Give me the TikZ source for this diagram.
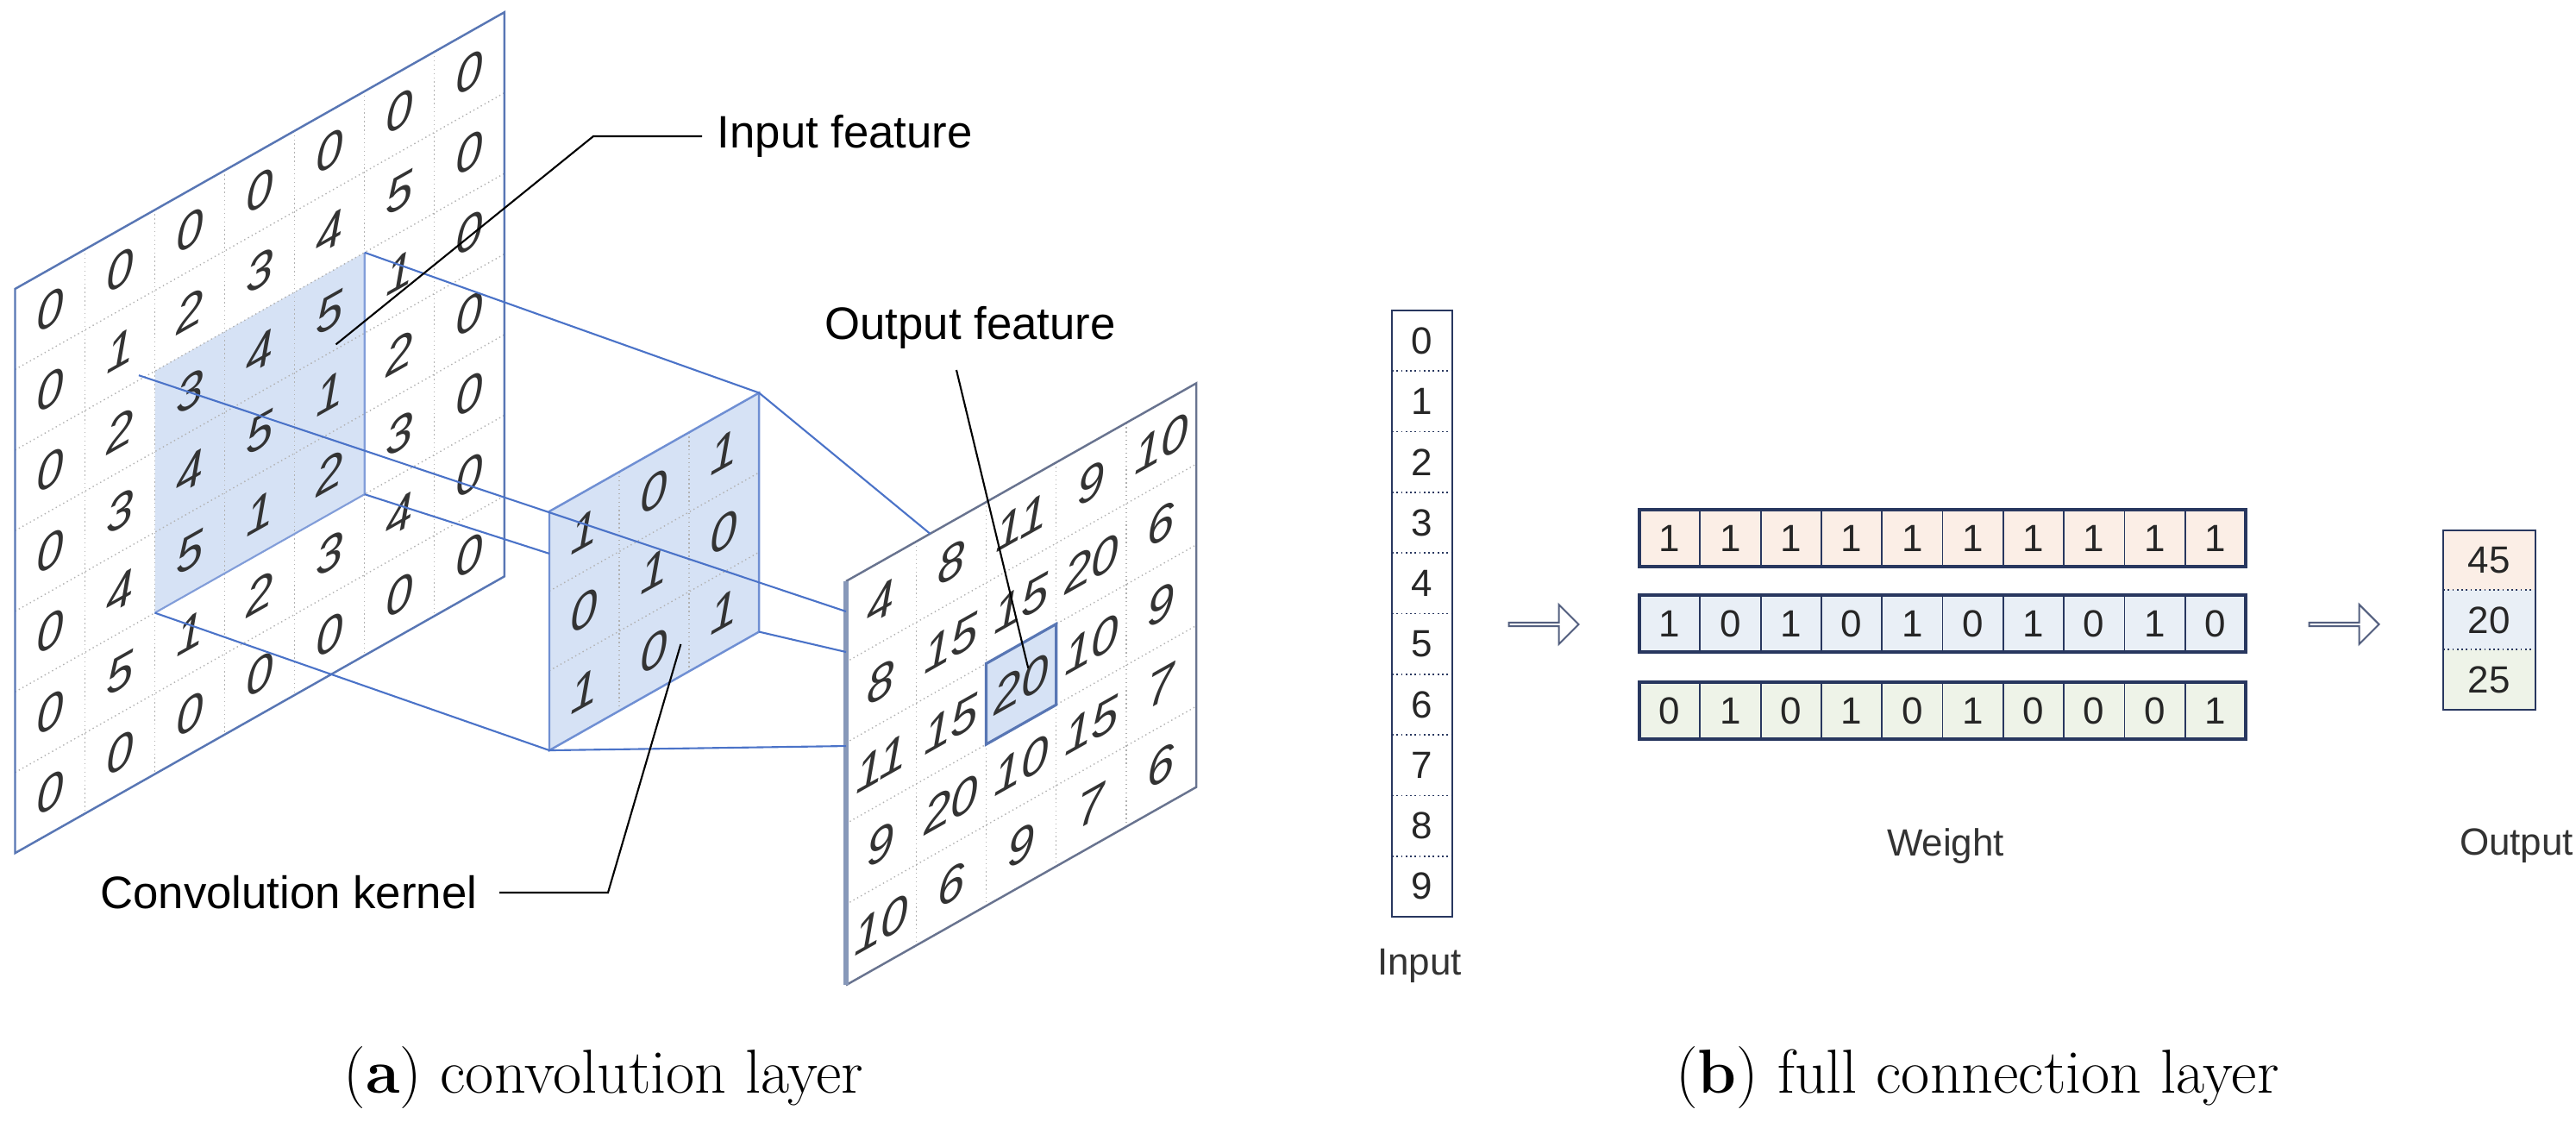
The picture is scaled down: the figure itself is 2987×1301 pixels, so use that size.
\documentclass[tikz,border=0pt]{standalone}
\usepackage{fontspec}
\usetikzlibrary{shapes.arrows}
\newfontfamily\mysans{Liberation Sans}
\definecolor{gridblue}{RGB}{88,118,180}
\definecolor{lineblue}{RGB}{75,115,200}
\definecolor{shadeb}{RGB}{214,226,245}
\definecolor{navy}{RGB}{40,55,95}
\definecolor{edgegray}{RGB}{135,152,185}
\definecolor{corange}{RGB}{251,238,230}
\definecolor{cblue}{RGB}{233,239,246}
\definecolor{cgreen}{RGB}{238,243,232}
\begin{document}
\begin{tikzpicture}[x=0.01cm,y=-0.01cm,
  border/.style={draw=gridblue,line width=0.7pt},
  dotl/.style={draw=black!30,densely dotted,line width=0.4pt},
  conn/.style={draw=lineblue,line width=0.6pt},
  leader/.style={draw=black,line width=0.6pt},
  dig/.style={font=\mysans\itshape\fontsize{16}{16}\selectfont,yslant=0.565,inner sep=0pt,text=black!80},
  lab/.style={font=\mysans\fontsize{15}{18}\selectfont,inner sep=0pt},
  rdig/.style={font=\mysans\fontsize{12.5}{14}\selectfont,inner sep=0pt,text=black!85},
  rlab/.style={font=\mysans\fontsize{12.5}{14}\selectfont,inner sep=0pt,text=black!80},
  capt/.style={font=\fontsize{20.5}{24}\selectfont,inner sep=0pt},
  harrow/.style={single arrow,draw=navy!80,fill=white,line width=0.6pt,minimum height=23pt,minimum width=13pt,single arrow head extend=3pt,inner sep=0pt}]
\useasboundingbox (0,0) rectangle (2987,1301);
% ---------- input feature grid ----------
\begin{scope}[shift={(17.5,335)},x={(0.81cm,0.458cm)},y={(0cm,-0.934cm)}]
  \fill[shadeb] (2,2)--(5,2)--(5,5)--(2,5)--cycle;
  \foreach \i in {1,...,6} {\draw[dotl] (\i,0)--(\i,7); \draw[dotl] (0,\i)--(7,\i);}
  \draw[border] (0,0)--(7,0)--(7,7)--(0,7)--cycle;
  \draw[draw=lineblue!70,line width=0.6pt] (2,5)--(5,5)--(5,2);
  \foreach \c/\vals in {0/{0,0,0,0,0,0,0},1/{0,1,2,3,4,5,0},2/{0,2,3,4,5,1,0},3/{0,3,4,5,1,2,0},4/{0,4,5,1,2,3,0},5/{0,5,1,2,3,4,0},6/{0,0,0,0,0,0,0}}
    \foreach \v [count=\r from 0] in \vals
      \node[dig] (in-\c-\r) at (\c+0.5,\r+0.5) {\v};
  \coordinate (inTR) at (5,2);
  \coordinate (inBR) at (5,5);
  \coordinate (inBL) at (2,5);
  \coordinate (inL) at (1.77,1.94);
  \coordinate (inLead) at (4.59,2.94);
\end{scope}
% ---------- kernel ----------
\begin{scope}[shift={(637,593)},x={(0.81cm,0.458cm)},y={(0cm,-0.923cm)}]
  \fill[shadeb] (0,0)--(3,0)--(3,3)--(0,3)--cycle;
  \foreach \i in {1,2} {\draw[dotl] (\i,0)--(\i,3); \draw[dotl] (0,\i)--(3,\i);}
  \draw[border,draw=lineblue!80] (0,0)--(3,0)--(3,3)--(0,3)--cycle;
  \foreach \c/\vals in {0/{1,0,1},1/{0,1,0},2/{1,0,1}}
    \foreach \v [count=\r from 0] in \vals
      \node[dig] (k-\c-\r) at (\c+0.5,\r+0.5) {\v};
  \coordinate (kTR) at (3,0);
  \coordinate (kBR) at (3,3);
  \coordinate (kBL) at (0,3);
  \coordinate (kL) at (0,0.53);
  \coordinate (kLead) at (1.88,2.6);
\end{scope}
% ---------- output feature ----------
\begin{scope}[shift={(981,674)},x={(0.812cm,0.459cm)},y={(0cm,-0.936cm)}]
  \fill[shadeb] (2,2)--(3,2)--(3,3)--(2,3)--cycle;
  \foreach \i in {1,...,4} {\draw[dotl] (\i,0)--(\i,5); \draw[dotl] (0,\i)--(5,\i);}
  \draw[border,draw=navy!70] (0,0)--(5,0)--(5,5)--(0,5);
  \draw[draw=edgegray,line width=1.5pt] (0,0)--(0,5);
  \draw[draw=gridblue,line width=0.9pt] (2,2)--(3,2)--(3,3)--(2,3)--cycle;
  \foreach \c/\vals in {0/{4,8,11,9,10},1/{8,15,15,20,6},2/{11,15,20,10,9},3/{9,20,10,15,7},4/{10,6,9,7,6}}
    \foreach \v [count=\r from 0] in \vals
      \node[dig] (o-\c-\r) at (\c+0.5,\r+0.5) {\v};
  \coordinate (oT) at (1.2,0);
  \coordinate (oL1) at (0,0.374);
  \coordinate (oL2) at (0,0.876);
  \coordinate (oL3) at (0,2.04);
  \coordinate (oLead) at (2.6,2.35);
\end{scope}
% ---------- connectors ----------
\draw[conn] (inTR) -- (kTR);
\draw[conn] (inBR) -- (kL);
\draw[conn] (inBL) -- (kBL);
\draw[conn] (inL) -- (oL1);
\draw[conn] (kTR) -- (oT);
\draw[conn] (kBR) -- (oL2);
\draw[conn] (kBL) -- (oL3);
% ---------- labels ----------
\node[lab,anchor=west] (lin) at (831,158) {Input feature};
\coordinate (linb) at (688,158);
\draw[leader] (lin.west) ++(-17,0) -- (linb) -- (inLead);
\node[lab] (lout) at (1125,380) {Output feature};
\coordinate (loutb) at (1109,429);
\draw[leader] (loutb) -- (oLead);
\node[lab,anchor=east] (lk) at (554,1035) {Convolution kernel};
\coordinate (lkb) at (705,1035);
\draw[leader] (lk.east) ++(25,0) -- (lkb) -- (kLead);
% ---------- full connection: input column ----------
\foreach \v [count=\i from 0] in {0,...,9}
  \node[rdig] (ic\i) at (1649,{395.15+70.3*\i}) {\v};
\foreach \i in {1,...,9}
  \draw[draw=navy,densely dotted,line width=0.5pt] (1614,{360+70.3*\i}) -- (1684,{360+70.3*\i});
\draw[draw=navy,line width=0.8pt] (1614,360) rectangle (1684,1063);
\node[rlab] (linput) at (1646,1120) {Input};
% ---------- weights ----------
\foreach \T/\col/\vals [count=\k] in {591/corange/{1,1,1,1,1,1,1,1,1,1},690/cblue/{1,0,1,0,1,0,1,0,1,0},791/cgreen/{0,1,0,1,0,1,0,0,0,1}} {
  \fill[\col] (1901,\T) rectangle (2604,\T+66);
  \foreach \j in {1,...,9}
    \draw[draw=navy,line width=0.5pt] ({1901+70.3*\j},\T) -- ({1901+70.3*\j},\T+66);
  \draw[draw=navy,line width=0.9pt] (1901,\T) rectangle (2604,\T+66);
  \foreach \v [count=\j from 0] in \vals
    \node[rdig] (w\k-\j) at ({1936+70.3*\j},\T+33) {\v};
}
\node[rlab] (lweight) at (2256,981) {Weight};
% ---------- output column ----------
\fill[corange] (2833,615) rectangle (2940,684);
\fill[cblue] (2833,684) rectangle (2940,753);
\fill[cgreen] (2833,753) rectangle (2940,823);
\draw[draw=navy,densely dotted,line width=0.5pt] (2833,684) -- (2940,684);
\draw[draw=navy,densely dotted,line width=0.5pt] (2833,753) -- (2940,753);
\draw[draw=navy,line width=0.8pt] (2833,615) rectangle (2940,823);
\node[rdig] (oc0) at (2886,650) {45};
\node[rdig] (oc1) at (2886,719) {20};
\node[rdig] (oc2) at (2886,788) {25};
\node[rlab] (loutput) at (2918,981) {Output};
% ---------- arrows ----------
\node[harrow] (ar1) at (1789,724) {};
\node[harrow] (ar2) at (2717,724) {};
% ---------- captions ----------
\node[capt] (capa) at (700,1250) {(\textbf{a}) convolution layer};
\node[capt] (capb) at (2293,1250) {(\textbf{b}) full connection layer};
\end{tikzpicture}
\end{document}
